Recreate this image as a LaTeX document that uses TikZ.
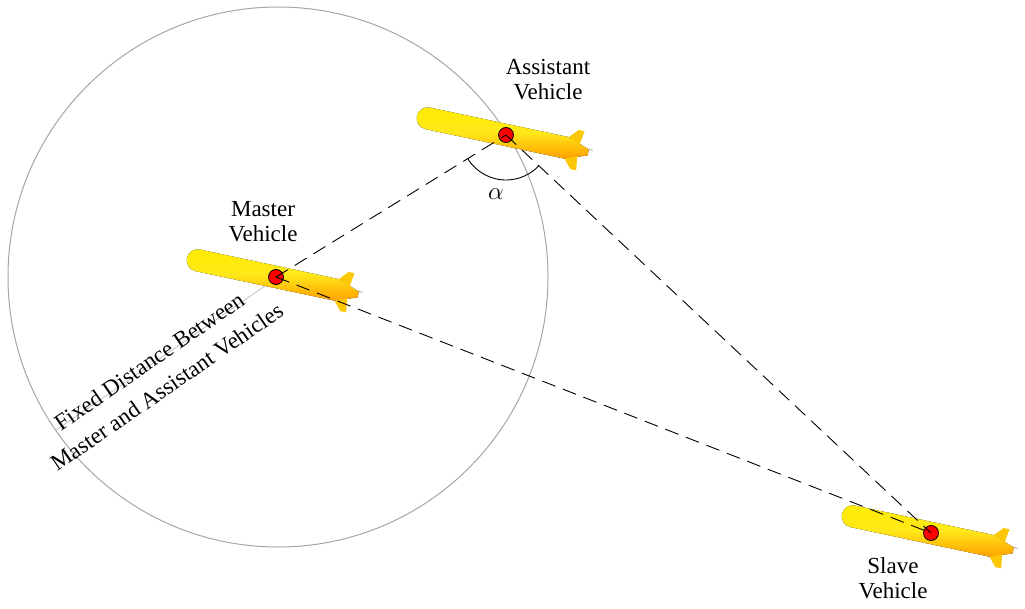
\documentclass[tikz,border=0pt]{standalone}
\usepackage{fontspec}
\setmainfont{Liberation Serif}
\usetikzlibrary{calc}
\tikzset{
  dashline/.style={dash pattern=on 14pt off 8pt, line width=0.9pt},
  dotn/.style={circle, draw=black, fill=red, line width=0.8pt, inner sep=0pt, minimum size=15pt},
  lbl/.style={font=\fontsize{23}{25}\selectfont, align=center},
  vehicle/.pic={
    \fill[top color=yellow!85!orange, bottom color=orange!75!yellow, middle color=yellow!80!orange!90!white]
      (-80,-11) arc (270:90:11) -- (62,11) -- (84,3) -- (84,-3) -- (62,-11) -- cycle;
    \fill[yellow!60!orange] (62,-11) -- (70,-20) -- (76,-20) -- (74,-6) -- cycle;
    \fill[yellow!60!orange] (62,11) -- (70,20) -- (76,20) -- (74,6) -- cycle;
    \draw[gray, line width=0.6pt] (84,-3) -- (88,-3);
  }
}
\begin{document}
\begin{tikzpicture}[x=1pt,y=-1pt]
\useasboundingbox (0,0) rectangle (1025,609);
\draw[gray!70, line width=1pt] (278,277) circle (270);
\draw[gray!60, line width=0.6pt] (278,277) -- ++(145.4:270);
\pic[rotate=-12] at (276,277) {vehicle};
\pic[rotate=-12] at (506,135) {vehicle};
\pic[rotate=-12] at (931,533) {vehicle};
\node[dotn] (m) at (276,277) {};
\node[dotn] (a) at (506,135) {};
\node[dotn] (s) at (931,533) {};
\draw[dashline] (m.center) -- (a.center);
\draw[dashline] (a.center) -- (s.center);
\draw[dashline] (m.center) -- (s.center);
\draw[line width=0.9pt] ($(a.center)!45pt!(m.center)$) arc[start angle=148.3, end angle=43.2, radius=45];
\node[lbl] (al) at (496,194) {$\alpha$};
\node[lbl] (ml) at (263,222) {Master\\Vehicle};
\node[lbl] (aL) at (548,80) {Assistant\\Vehicle};
\node[lbl] (sl) at (893,578) {Slave\\Vehicle};
\node[lbl, rotate=34.6, align=center, inner sep=0pt] (fd) at (158,374)
  {Fixed Distance Between\\[6pt]Master and Assistant Vehicles};
\end{tikzpicture}
\end{document}
